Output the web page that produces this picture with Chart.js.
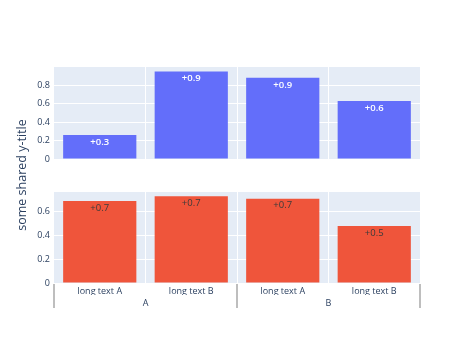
<!DOCTYPE html>
<html>
<head>
<meta charset="utf-8">
<script src="https://cdn.jsdelivr.net/npm/chart.js@4"></script>
<style>
  html, body { margin: 0; padding: 0; background: #fff; }
  #wrap { position: relative; width: 474px; height: 338px; overflow: hidden; font-family: "Open Sans", sans-serif; }
  #wrap canvas { position: absolute; left: 0; }
  #topChart { top: 0; }
  #bottomChart { top: 170px; }
  #ytitle { top: 95px; }
</style>
</head>
<body>
<div id="wrap">
  <canvas id="topChart" width="474" height="170"></canvas>
  <canvas id="bottomChart" width="474" height="168"></canvas>
  <canvas id="ytitle" width="40" height="160" aria-label="some shared y-title"></canvas>
</div>
<script>
// --- DATA ---
const categories = ['long text A', 'long text B', 'long text A', 'long text B'];
const groups = ['A', 'B'];
const topValues = [0.26, 0.95, 0.88, 0.63];
const bottomValues = [0.69, 0.73, 0.71, 0.48];
const yTitle = 'some shared y-title';

const FONT = '"Open Sans", sans-serif';
const TEXT = '#2a3f5f';
const PLOT_BG = '#E5ECF6';

// plot background behind the bars
const plotBg = {
    id: 'plotBg',
    beforeDraw(chart) {
        const a = chart.chartArea, ctx = chart.ctx;
        ctx.save();
        ctx.fillStyle = PLOT_BG;
        ctx.fillRect(a.left, a.top, a.right - a.left, a.bottom - a.top);
        ctx.restore();
    }
};

// "+0.x" text inside the top of each bar
const barText = {
    id: 'barText',
    afterDatasetsDraw(chart, args, opts) {
        const ctx = chart.ctx;
        const meta = chart.getDatasetMeta(0);
        const data = chart.data.datasets[0].data;
        ctx.save();
        ctx.font = opts.weight + ' 9.5px ' + FONT;
        ctx.fillStyle = opts.color;
        ctx.textAlign = 'center';
        ctx.textBaseline = 'middle';
        meta.data.forEach((bar, i) => {
            ctx.fillText('+' + data[i].toFixed(1), bar.x, bar.y + 7);
        });
        ctx.restore();
    }
};

// grey dividers between the groups, below the plot
const dividers = {
    id: 'dividers',
    afterDraw(chart) {
        const g = chart.scales.group;
        if (!g) return;
        const ctx = chart.ctx, y0 = chart.chartArea.bottom + 1;
        ctx.save();
        ctx.strokeStyle = '#a8a8a8';
        ctx.lineWidth = 1.5;
        for (let i = 0; i <= groups.length; i++) {
            const x = Math.round(g.getPixelForValue(i - 0.5));
            ctx.beginPath();
            ctx.moveTo(x, y0);
            ctx.lineTo(x, y0 + 24);
            ctx.stroke();
        }
        ctx.restore();
    }
};

function yAxis(values) {
    return {
        min: 0,
        max: Math.max(...values) * 1.05,
        afterFit: s => { s.width = 54; },
        border: { display: false },
        grid: { color: '#fff', lineWidth: 1, drawTicks: false },
        ticks: { stepSize: 0.2, includeBounds: false, padding: 4, color: TEXT, font: { family: FONT, size: 9 } }
    };
}

function xGrid() {
    return {
        offset: true,
        drawTicks: false,
        lineWidth: 1,
        color: c => (c.index === 0 || c.index === categories.length) ? 'rgba(0,0,0,0)' : '#fff'
    };
}

function makeChart(id, values, color, textColor, weight, padTop, padBottom, withLabels) {
    const scales = {
        x: {
            offset: true,
            weight: 1,
            border: { display: false },
            grid: xGrid(),
            afterFit: withLabels ? (s => { s.height = 12; }) : (s => { s.height = 0; }),
            ticks: { display: withLabels, padding: 3, color: TEXT, font: { family: FONT, size: 9 }, maxRotation: 0, autoSkip: false }
        },
        y: yAxis(values)
    };
    if (withLabels) {
        scales.group = {
            type: 'category',
            labels: groups,
            position: 'bottom',
            offset: true,
            weight: 2,
            border: { display: false },
            grid: { display: false },
            afterFit: s => { s.height = 24; },
            ticks: { padding: -5, color: TEXT, font: { family: FONT, size: 9 } }
        };
    }
    return new Chart(document.getElementById(id), {
        type: 'bar',
        data: {
            labels: categories,
            datasets: [{
                data: values,
                backgroundColor: color,
                borderWidth: 0,
                barPercentage: 0.8,
                categoryPercentage: 1
            }]
        },
        options: {
            responsive: false,
            animation: false,
            layout: { padding: { top: padTop, bottom: padBottom, left: 0, right: 54 } },
            plugins: {
                legend: { display: false },
                tooltip: { enabled: false },
                barText: { color: textColor, weight: weight }
            },
            scales: scales
        },
        plugins: [plotBg, barText, dividers]
    });
}

makeChart('topChart', topValues, '#636efa', '#ffffff', '600', 67, 11, false);
makeChart('bottomChart', bottomValues, '#EF553B', '#3b3b3b', 'normal', 22, 19, true);

// shared y title, rotated, centred between the two plots
const tctx = document.getElementById('ytitle').getContext('2d');
tctx.translate(22, 80);
tctx.rotate(-Math.PI / 2);
tctx.font = '12.5px ' + FONT;
tctx.fillStyle = TEXT;
tctx.textAlign = 'center';
tctx.textBaseline = 'middle';
tctx.fillText(yTitle, 0, 0);
</script>
</body>
</html>
